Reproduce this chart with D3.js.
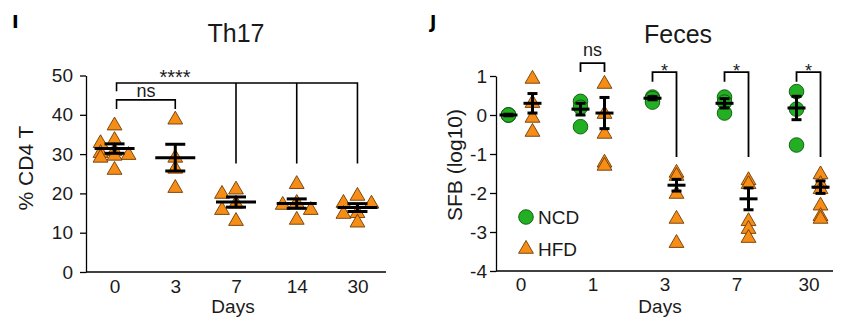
<!DOCTYPE html>
<html><head><meta charset="utf-8">
<script src="https://cdn.jsdelivr.net/npm/d3@7"></script>
<style>
body{margin:0;background:#fff}
text{font-family:"Liberation Sans",Arial,Helvetica,sans-serif;fill:#1a1a1a}
text.lab{font-family:"DejaVu Sans",sans-serif;font-weight:bold;fill:#000}
</style>
</head><body>
<svg id="c" width="864" height="322"></svg>
<script>
// ---------- Panel I : Th17 ----------
const th17Days = ["0", "3", "7", "14", "30"];
const th17Values = [
  [37.5, 33.8, 33, 31, 30.5, 30, 29.8, 29.3, 26.2],
  [39, 29.3, 26.5, 21.6],
  [21.2, 20.1, 17.6, 16, 13.2],
  [22.6, 17.8, 17.3, 16, 13.5],
  [19.6, 17.8, 17.6, 15.2, 15, 12.8]
];
const th17Mean = [31.4, 29.1, 17.8, 17.4, 16.4];
const th17Sem = [1.2, 3.4, 1.3, 1.2, 1.0];
const th17Ticks = [0, 10, 20, 30, 40, 50];

// ---------- Panel J : Feces SFB ----------
const sfbDays = ["0", "1", "3", "7", "30"];
const ncdValues = [
  [0, 0, 0],
  [0.35, 0.2, -0.3],
  [0.46, 0.42, 0.33],
  [0.46, 0.33, 0.05],
  [0.6, 0.15, -0.77]
];
const hfdValues = [
  [0.95, 0.33, -0.05, -0.41],
  [0.82, 0.05, -0.46, -1.2, -1.28],
  [-1.46, -1.54, -2.0, -2.64, -3.26],
  [-1.65, -1.75, -2.7, -2.9, -3.13],
  [-1.5, -1.75, -1.88, -2.3, -2.57, -2.64]
];
const ncdMean = [0, 0.15, 0.43, 0.3, 0.18];
const ncdSem = [0.02, 0.15, 0.04, 0.12, 0.3];
const hfdMean = [0.3, 0.05, -1.8, -2.15, -1.85];
const hfdSem = [0.25, 0.4, 0.15, 0.28, 0.16];
const sfbTicks = [-4, -3, -2, -1, 0, 1];

const ORANGE = "#f68d16", ORANGE_S = "#6e3b05";
const GREEN = "#22b022", GREEN_S = "#0d560d";

const svg = d3.select("#c");
const tri = d3.symbol().type(d3.symbolTriangle).size(95);

function triangle(g, x, y) {
  g.append("path").attr("d", tri).attr("transform", `translate(${x},${y+1})`)
    .attr("fill", ORANGE).attr("stroke", ORANGE_S).attr("stroke-width", 0.9);
}
function circle(g, x, y) {
  g.append("circle").attr("cx", x).attr("cy", y).attr("r", 7.3)
    .attr("fill", GREEN).attr("stroke", GREEN_S).attr("stroke-width", 0.9);
}
function errBar(g, x, yS, m, s, halfMean, halfCap, w) {
  const line = (x1, y1, x2, y2) => g.append("line")
    .attr("x1", x1).attr("y1", y1).attr("x2", x2).attr("y2", y2)
    .attr("stroke", "#000").attr("stroke-width", w);
  line(x, yS(m - s), x, yS(m + s));
  line(x - halfCap, yS(m + s), x + halfCap, yS(m + s));
  line(x - halfCap, yS(m - s), x + halfCap, yS(m - s));
  line(x - halfMean, yS(m), x + halfMean, yS(m));
}
// deterministic compact beeswarm (three columns max)
function swarm(vals, yS, step) {
  const order = vals.map((v, i) => i).sort((a, b) => vals[b] - vals[a]);
  const placed = [], out = new Array(vals.length);
  const cand = [0, -1, 1];
  order.forEach(i => {
    const y = yS(vals[i]);
    let best = null, bestScore = -1;
    for (const c of cand) {
      const x = c * step;
      const score = placed.length ? d3.min(placed, p => Math.abs(p.x - x) >= step - 1 ? 99 : Math.abs(p.y - y)) : 99;
      if (score >= 9) { best = x; break; }
      if (score > bestScore) { bestScore = score; best = x; }
    }
    placed.push({x: best, y}); out[i] = best;
  });
  return out;
}

// ===== Panel I =====
{
  const g = svg.append("g");
  const x = d3.scalePoint().domain(th17Days).range([86, 386]).padding(0.47);
  const y = d3.scaleLinear().domain([0, 50]).range([272, 75.5]);

  g.append("text").attr("class", "lab").attr("x", 12).attr("y", 28).attr("font-size", 18).text("I");
  g.append("text").attr("x", 236).attr("y", 42).attr("font-size", 25).attr("text-anchor", "middle").text("Th17");

  const ya = g.append("g").attr("transform", "translate(86,0)")
    .call(d3.axisLeft(y).tickValues(th17Ticks).tickSize(6).tickPadding(7).tickSizeOuter(0).tickFormat(d => String(d)));
  ya.selectAll("text").attr("font-size", 19).attr("font-family", null);
  ya.selectAll("line,path").attr("stroke", "#000").attr("stroke-width", 1.3);

  const xa = g.append("g").attr("transform", "translate(0,272)")
    .call(d3.axisBottom(x).tickSize(0).tickPadding(8));
  xa.select(".domain").remove();
  xa.selectAll("text").attr("font-size", 19).attr("font-family", null);
  g.append("line").attr("x1", 86).attr("x2", 386).attr("y1", 272).attr("y2", 272).attr("stroke", "#000").attr("stroke-width", 1.3);

  g.append("text").attr("x", 233).attr("y", 313).attr("font-size", 19).attr("text-anchor", "middle").text("Days");
  g.append("text").attr("transform", "translate(33,168) rotate(-90)").attr("font-size", 21).attr("text-anchor", "middle").text("% CD4 T");

  th17Values.forEach((vals, i) => {
    const cx = x(th17Days[i]);
    const offs = swarm(vals, y, 14);
    vals.forEach((v, j) => triangle(g, cx + offs[j], y(v)));
  });
  th17Days.forEach((d, i) => errBar(g, x(d), y, th17Mean[i], th17Sem[i], 20, 10, 3));

  // brackets
  const br = g.append("g").attr("fill", "none").attr("stroke", "#000").attr("stroke-width", 1.6);
  const x0 = x("0") + 2;
  br.append("path").attr("d", `M${x0},${y(46)}V${y(48.1)}H${x("30")}V${y(27.6)}`);
  ["7", "14"].forEach(d => br.append("path").attr("d", `M${x(d)},${y(48.1)}V${y(27.6)}`));
  br.append("path").attr("d", `M${x0},${y(41.5)}V${y(43.8)}H${x("3")}V${y(41.5)}`);
  g.append("text").attr("x", 175).attr("y", 84).attr("font-size", 20).attr("text-anchor", "middle").text("****");
  g.append("text").attr("x", x0 + (x("3") - x0) / 2).attr("y", 97).attr("font-size", 18).attr("text-anchor", "middle").text("ns");
}

// ===== Panel J =====
{
  const g = svg.append("g");
  const x = d3.scalePoint().domain(sfbDays).range([496, 833]).padding(0.34);
  const y = d3.scaleLinear().domain([-4, 1]).range([271, 76]);
  const dx = 12;

  g.append("text").attr("class", "lab").attr("x", 430).attr("y", 28).attr("font-size", 17).text("J");
  g.append("text").attr("x", 678).attr("y", 43).attr("font-size", 25).attr("text-anchor", "middle").text("Feces");

  const ya = g.append("g").attr("transform", "translate(496,0)")
    .call(d3.axisLeft(y).tickValues(sfbTicks).tickSize(6).tickPadding(3).tickSizeOuter(0).tickFormat(d => String(d)));
  ya.selectAll("text").attr("font-size", 19).attr("font-family", null);
  ya.selectAll("line,path").attr("stroke", "#000").attr("stroke-width", 1.3);

  const xa = g.append("g").attr("transform", "translate(0,271)")
    .call(d3.axisBottom(x).tickSize(0).tickPadding(7));
  xa.select(".domain").remove();
  xa.selectAll("text").attr("font-size", 19).attr("font-family", null);
  g.append("line").attr("x1", 496).attr("x2", 833).attr("y1", 271).attr("y2", 271).attr("stroke", "#000").attr("stroke-width", 1.3);

  g.append("text").attr("x", 660).attr("y", 313).attr("font-size", 19).attr("text-anchor", "middle").text("Days");
  g.append("text").attr("transform", "translate(462,165) rotate(-90)").attr("font-size", 21).attr("text-anchor", "middle").text("SFB (log10)");

  sfbDays.forEach((d, i) => {
    const c = x(d);
    ncdValues[i].forEach(v => circle(g, c - dx, y(v)));
    hfdValues[i].forEach(v => triangle(g, c + dx, y(v)));
    errBar(g, c - dx, y, ncdMean[i], ncdSem[i], 9, 5, 3);
    errBar(g, c + dx, y, hfdMean[i], hfdSem[i], 9, 5, 3);
  });

  const br = g.append("g").attr("fill", "none").attr("stroke", "#000").attr("stroke-width", 1.8);
  br.append("path").attr("d", `M${x("1") - dx},${y(1.1)}V${y(1.33)}H${x("1") + dx}V${y(1.1)}`);
  g.append("text").attr("x", x("1")).attr("y", 56).attr("font-size", 18).attr("text-anchor", "middle").text("ns");
  ["3", "7", "30"].forEach(d => {
    br.append("path").attr("d", `M${x(d) - dx},${y(0.85)}V${y(1.1)}H${x(d) + dx}V${y(-1.08)}`);
    g.append("text").attr("x", x(d)).attr("y", 77).attr("font-size", 18).attr("text-anchor", "middle").text("*");
  });

  // legend
  circle(g, 526, 217);
  g.append("text").attr("x", 538).attr("y", 224).attr("font-size", 19).text("NCD");
  triangle(g, 526, 248);
  g.append("text").attr("x", 538).attr("y", 256).attr("font-size", 19).text("HFD");
}
</script>
</body></html>
